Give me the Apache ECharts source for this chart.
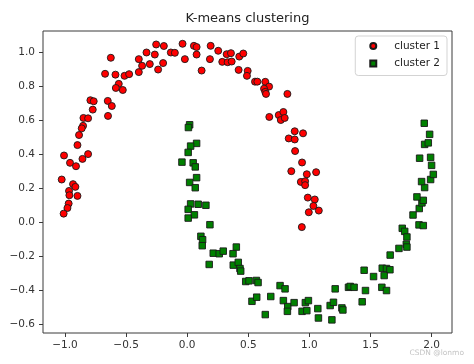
<!DOCTYPE html>
<html>
<head>
<meta charset="utf-8">
<script src="https://cdn.jsdelivr.net/npm/echarts@6/dist/echarts.min.js"></script>
<style>
html,body{margin:0;padding:0;background:#fff;}
#chart{width:474px;height:364px;}
</style>
</head>
<body>
<div id="chart"></div>
<script>
const titleText = 'K-means clustering';
const seriesNames = ['cluster 1', 'cluster 2'];
const xTicks = [-1.0, -0.5, 0.0, 0.5, 1.0, 1.5, 2.0];
const yTicks = [-0.6, -0.4, -0.2, 0.0, 0.2, 0.4, 0.6, 0.8, 1.0];

const cluster1 = [
[-0.254,1.043],[-0.191,1.034],[-0.038,1.047],[0.055,1.035],[0.077,1.028],
[-0.333,0.996],[-0.265,0.984],[-0.134,0.996],[-0.101,0.994],[0.077,0.984],
[-0.625,0.965],[-0.396,0.957],[-0.306,0.928],[-0.369,0.918],[-0.197,0.934],
[-0.019,0.957],[-0.238,0.896],[-0.396,0.881],[-0.672,0.871],[-0.587,0.866],
[-0.513,0.859],[-0.475,0.869],[-0.560,0.812],[-0.584,0.788],[-0.527,0.776],
[-0.792,0.716],[-0.765,0.710],[-0.650,0.712],[-0.617,0.682],[-0.773,0.661],
[-0.648,0.624],[-0.849,0.612],[-0.811,0.610],[-0.852,0.566],[-0.863,0.551],
[-0.885,0.512],[-0.898,0.453],[-1.008,0.392],[-0.811,0.400],[-0.857,0.372],
[-0.959,0.349],[-0.910,0.329],[-1.027,0.251],[-0.934,0.224],[-0.915,0.208],
[-0.967,0.184],[-0.964,0.159],[-0.898,0.155],[-0.970,0.110],[-0.980,0.084],
[-1.011,0.051],[0.118,0.890],[0.192,1.035],[0.254,1.006],[0.186,0.957],
[0.323,0.986],[0.358,0.992],[0.287,0.941],[0.331,0.939],[0.364,0.943],
[0.426,0.972],[0.459,0.990],[0.421,0.894],[0.495,0.888],[0.489,0.859],
[0.555,0.825],[0.574,0.825],[0.639,0.824],[0.670,0.796],[0.629,0.784],
[0.639,0.765],[0.645,0.753],[0.820,0.753],[0.672,0.618],[0.749,0.629],
[0.787,0.647],[0.766,0.600],[0.798,0.612],[0.880,0.534],[0.948,0.522],
[0.831,0.492],[0.880,0.486],[0.883,0.418],[0.940,0.351],[0.852,0.300],
[0.979,0.282],[1.055,0.294],[0.930,0.237],[0.965,0.241],[0.965,0.218],
[0.987,0.145],[1.044,0.134],[1.033,0.096],[0.995,0.059],[1.077,0.069],
[0.938,-0.028]
];

const cluster2 = [
[0.020,0.572],[0.010,0.556],[0.077,0.463],[0.028,0.447],[0.008,0.410],
[-0.043,0.353],[0.049,0.349],[0.066,0.325],[0.077,0.262],[0.020,0.234],
[0.066,0.203],[0.028,0.108],[0.090,0.106],[0.153,0.100],[0.008,0.076],
[0.059,0.044],[0.008,0.025],[0.186,-0.014],[0.112,-0.082],[0.126,-0.102],
[0.123,-0.137],[0.213,-0.181],[0.262,-0.184],[0.295,-0.169],[0.402,-0.145],
[0.375,-0.184],[0.180,-0.247],[0.377,-0.251],[0.418,-0.235],[0.432,-0.271],
[0.438,-0.286],[0.479,-0.347],[0.506,-0.343],[0.566,-0.341],[0.580,-0.353],
[0.760,-0.371],[0.801,-0.390],[1.211,-0.390],[1.320,-0.381],[0.530,-0.463],
[0.569,-0.439],[0.684,-0.435],[0.787,-0.459],[0.823,-0.494],[0.820,-0.522],
[0.875,-0.471],[0.940,-0.522],[0.967,-0.471],[0.992,-0.459],[0.979,-0.518],
[1.069,-0.506],[1.074,-0.561],[0.639,-0.541],[1.170,-0.488],[1.197,-0.469],
[1.266,-0.502],[1.184,-0.572],[1.274,-0.514],[1.432,-0.466],[1.334,-0.376],
[1.366,-0.381],[1.459,-0.400],[1.593,-0.381],[1.631,-0.400],[1.448,-0.281],
[1.596,-0.269],[1.631,-0.271],[1.659,-0.278],[1.525,-0.318],[1.612,-0.312],
[1.661,-0.192],[1.733,-0.153],[1.793,-0.129],[1.798,-0.145],[1.760,-0.035],
[1.780,-0.053],[1.798,-0.086],[1.897,-0.015],[1.932,-0.019],[1.848,0.043],
[1.899,0.081],[1.921,0.114],[1.932,0.129],[1.880,0.149],[1.943,0.204],
[1.918,0.239],[1.992,0.251],[2.014,0.281],[2.000,0.334],[1.992,0.381],
[1.902,0.376],[1.943,0.457],[1.973,0.466],[1.984,0.516],[1.940,0.581]
];

const FONT = 'DejaVu Sans';
const fmt = v => (v < 0 ? '\u2212' : '') + Math.abs(v).toFixed(1);

const chart = echarts.init(document.getElementById('chart'), null, {renderer: 'canvas'});
chart.setOption({
  animation: false,
  backgroundColor: '#ffffff',
  title: {
    text: titleText,
    left: 247.5,
    top: 12,
    padding: 0,
    textAlign: 'center',
    textStyle: {fontFamily: FONT, fontSize: 13, fontWeight: 'normal', color: '#222'}
  },
  grid: {
    left: 43, right: 22, top: 31, bottom: 31,
    show: true, borderColor: '#3a3a3a', borderWidth: 1, backgroundColor: 'transparent'
  },
  legend: {
    orient: 'vertical',
    right: 27,
    top: 36,
    padding: [4, 7, 6, 14],
    itemGap: 5.5,
    itemWidth: 6,
    itemHeight: 6,
    backgroundColor: 'rgba(255,255,255,0.8)',
    borderColor: '#d3d3d3',
    borderWidth: 1,
    borderRadius: 3,
    textStyle: {fontFamily: FONT, fontSize: 10.5, color: '#222', padding: [0, 0, 0, 13], lineHeight: 12},
    data: [
      {name: seriesNames[0], icon: 'circle'},
      {name: seriesNames[1], icon: 'rect'}
    ]
  },
  xAxis: {
    type: 'value',
    position: 'bottom',
    min: -1.180,
    max: 2.167,
    splitLine: {show: false},
    axisLine: {show: false, onZero: false},
    axisTick: {show: true, length: 4, lineStyle: {color: '#3a3a3a'}, customValues: xTicks},
    axisLabel: {
      customValues: xTicks, formatter: fmt, margin: 7,
      fontFamily: FONT, fontSize: 10.5, color: '#333'
    }
  },
  yAxis: {
    type: 'value',
    position: 'left',
    min: -0.649,
    max: 1.122,
    splitLine: {show: false},
    axisLine: {show: false, onZero: false},
    axisTick: {show: true, length: 4, lineStyle: {color: '#3a3a3a'}, customValues: yTicks},
    axisLabel: {
      customValues: yTicks, formatter: fmt, margin: 8,
      fontFamily: FONT, fontSize: 10.5, color: '#333'
    }
  },
  graphic: [{
    type: 'text',
    right: 10,
    top: 349,
    style: {text: 'CSDN @lonmo', fontFamily: FONT, fontSize: 7.5, fill: '#c4c4c4'}
  }],
  series: [
    {
      name: seriesNames[0],
      type: 'scatter',
      data: cluster1,
      symbol: 'circle',
      symbolSize: 7,
      itemStyle: {color: '#ff0000', borderColor: '#1a1a1a', borderWidth: 0.9, opacity: 1}
    },
    {
      name: seriesNames[1],
      type: 'scatter',
      data: cluster2,
      symbol: 'rect',
      symbolSize: 6.5,
      itemStyle: {color: '#008000', borderColor: '#1a1a1a', borderWidth: 0.9, opacity: 1}
    }
  ]
});
</script>
</body>
</html>
